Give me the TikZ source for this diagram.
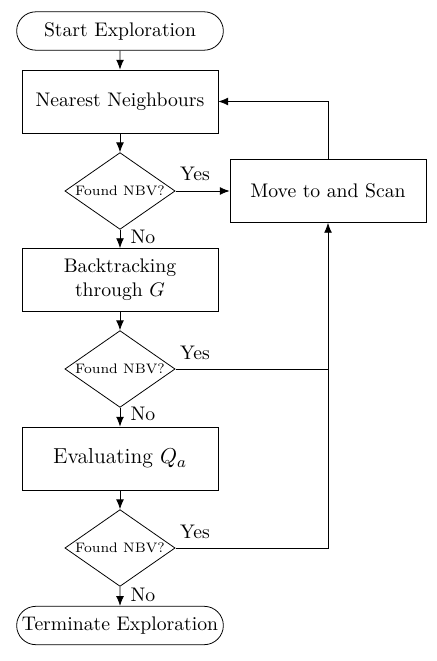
\documentclass[tikz,border=0pt]{standalone}
\usetikzlibrary{shapes.geometric, shapes.misc, arrows.meta}

\begin{document}
\begin{tikzpicture}[x=0.508pt, y=-0.508pt,
        terminal/.style={draw, rounded rectangle, minimum width=107pt, minimum height=19.5pt, inner sep=1pt},
        process/.style={draw, rectangle, minimum width=99.5pt, minimum height=32pt, align=center},
        decision/.style={draw, diamond, aspect=1.43, minimum width=56pt, minimum height=39pt, inner sep=0pt, font=\scriptsize},
        flow/.style={-{Latex[length=5pt, width=4pt]}}]

        \useasboundingbox (0,0) rectangle (436,661);

        % Main column
        \node[terminal] (start) at (120,31) {Start Exploration};
        \node[process] (nn) at (120,101.5) {Nearest Neighbours};
        \node[decision] (d1) at (120,191) {Found NBV?};
        \node[process] (bt) at (120,280) {Backtracking\\through $G$};
        \node[decision] (d2) at (120,369) {Found NBV?};
        \node[process, font=\fontsize{11pt}{13pt}\selectfont] (ev) at (120,458.5) {Evaluating $Q_a$};
        \node[decision] (d3) at (120,548) {Found NBV?};
        \node[terminal] (term) at (120,625.5) {Terminate Exploration};

        % Side box
        \node[process] (move) at (328,191) {Move to and Scan};

        % Labels
        \node (yes1) at (195,174) {Yes};
        \node (yes2) at (195,353) {Yes};
        \node (yes3) at (195,532) {Yes};
        \node (no1) at (143,237) {No};
        \node (no2) at (143,414) {No};
        \node (no3) at (143,595) {No};

        % Junctions
        \coordinate (j2) at (d2 -| move);
        \coordinate (j3) at (d3 -| move);
        \coordinate (ret) at (move |- nn);

        % Connectors
        \draw[flow] (start) -- (nn);
        \draw[flow] (nn) -- (d1);
        \draw[flow] (d1) -- (move);
        \draw[flow] (d1) -- (bt);
        \draw[flow] (bt) -- (d2);
        \draw[flow] (d2) -- (ev);
        \draw[flow] (ev) -- (d3);
        \draw[flow] (d3) -- (term);
        \draw (d2) -- (j2);
        \draw[flow] (d3) -- (j3) -- (move);
        \draw[flow] (move) -- (ret) -- (nn);

    \end{tikzpicture}
\end{document}
